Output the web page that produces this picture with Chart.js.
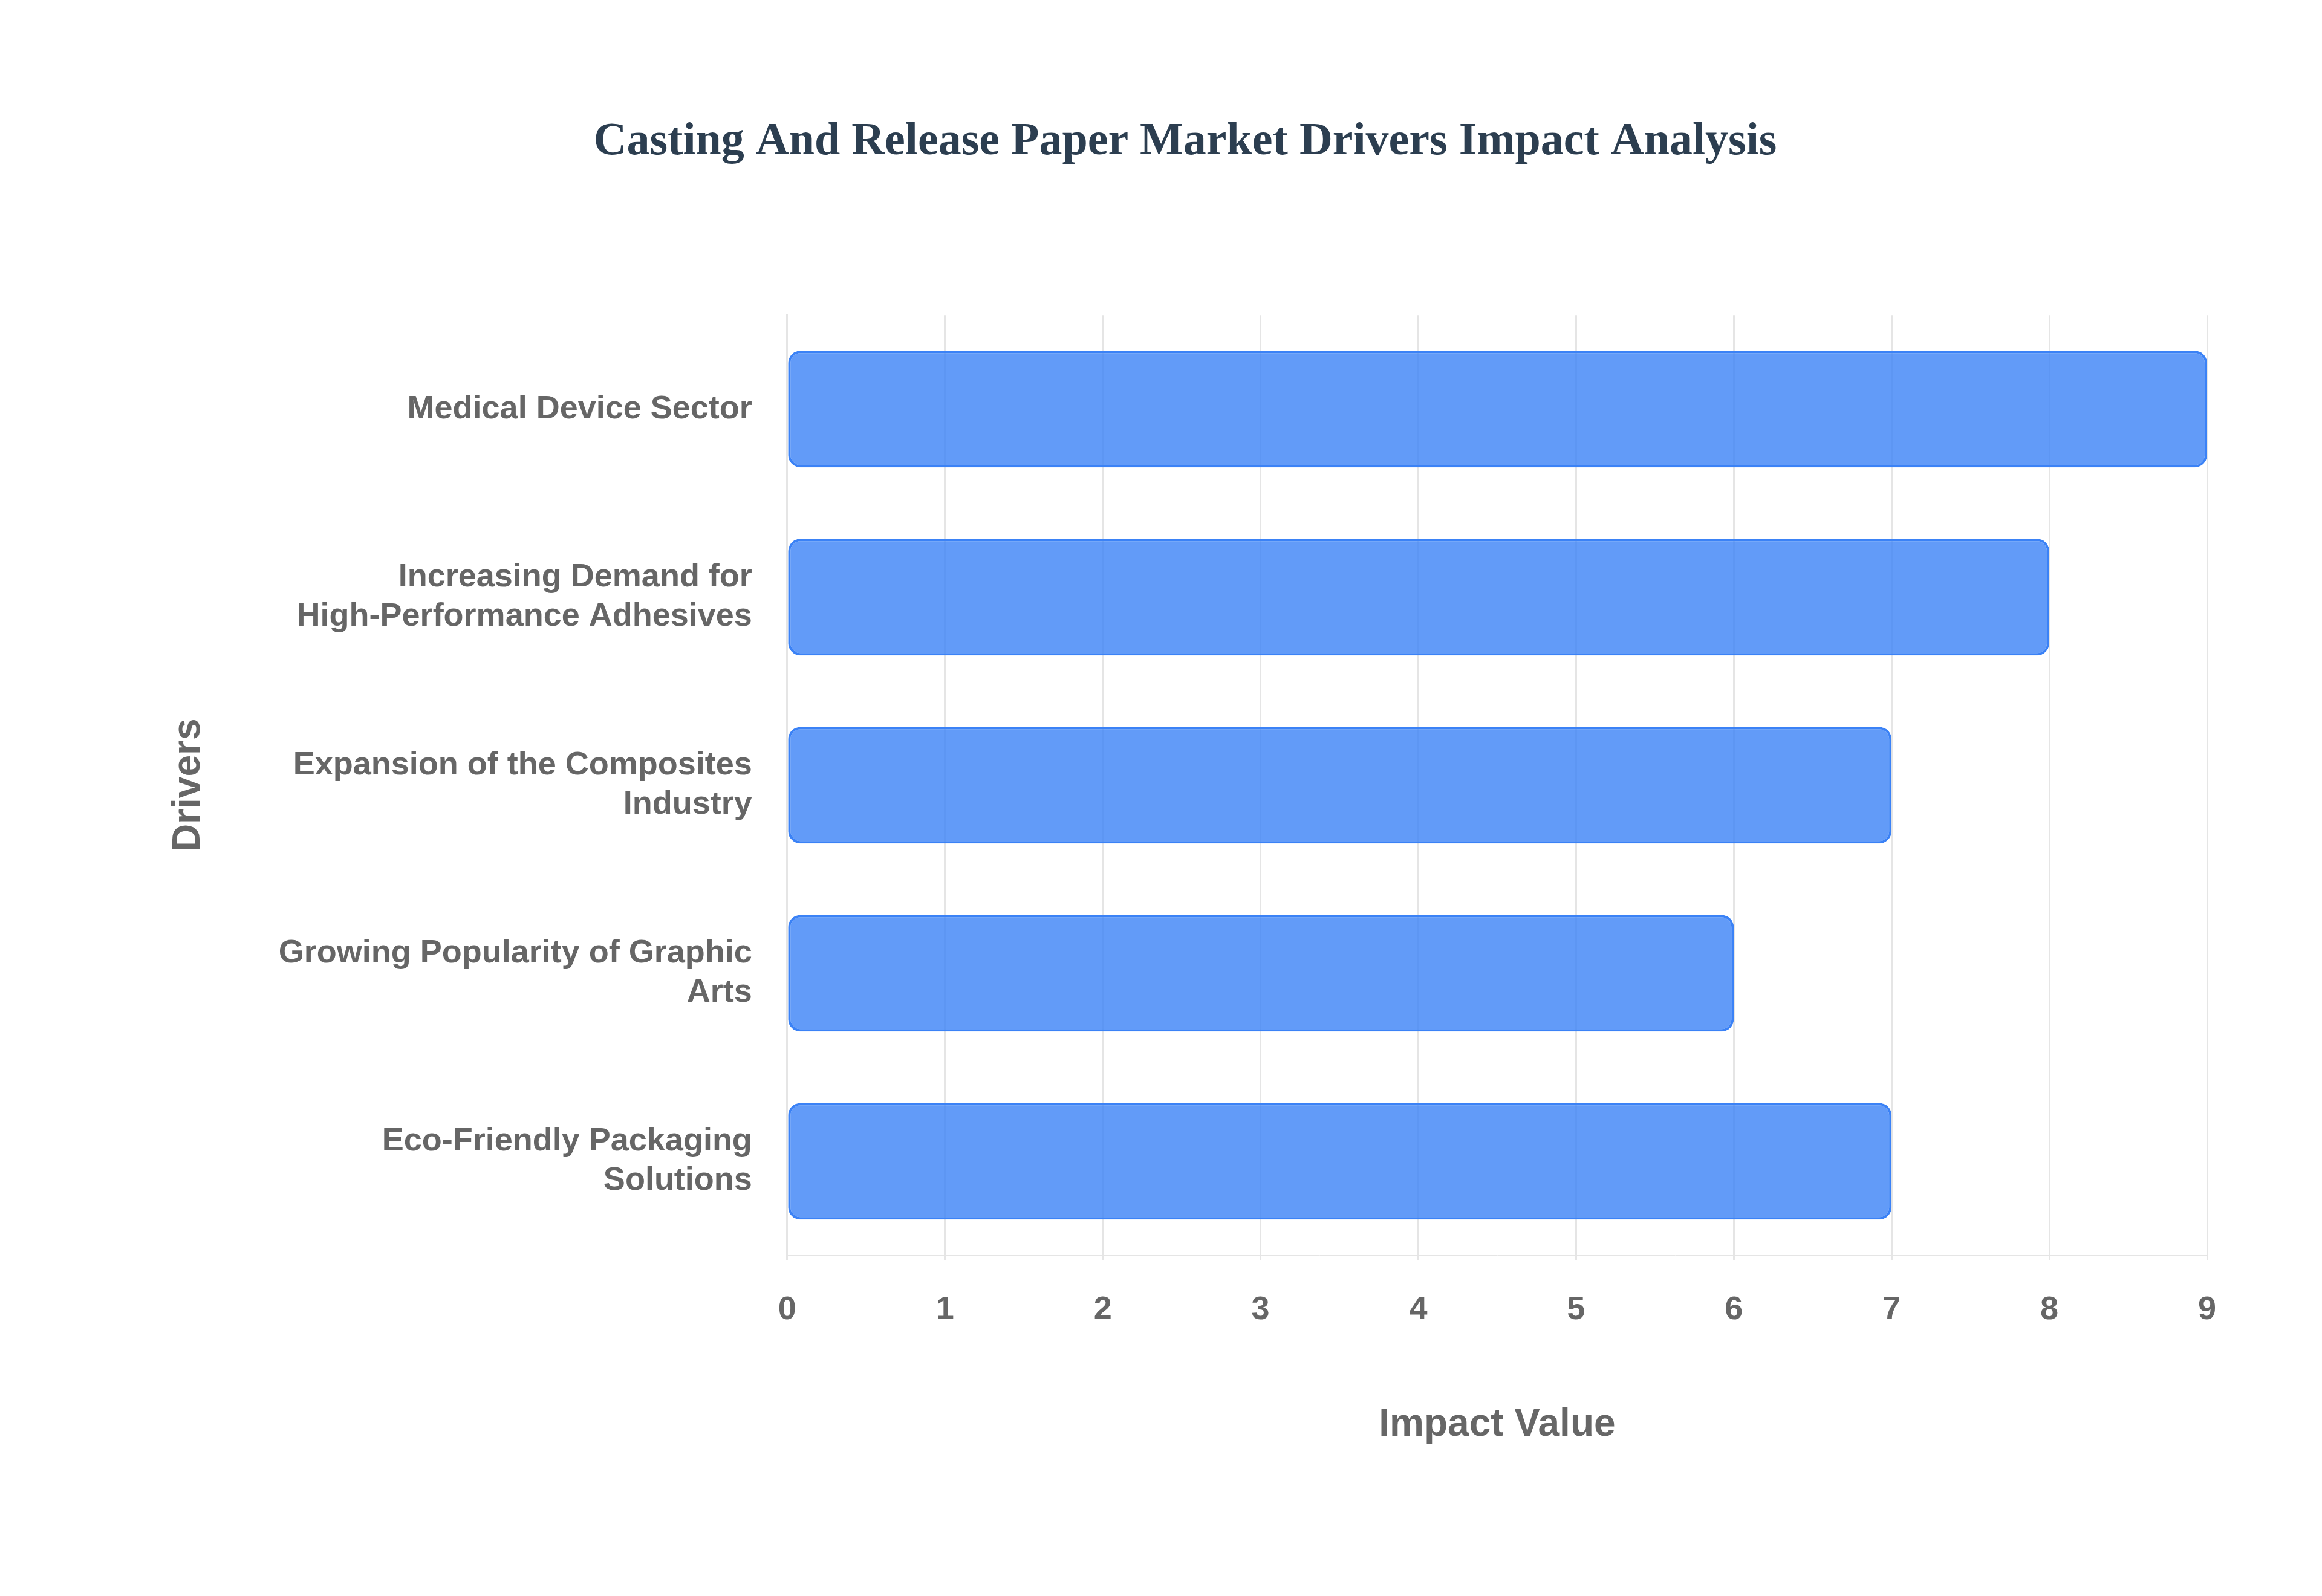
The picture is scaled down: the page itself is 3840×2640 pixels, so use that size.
<!DOCTYPE html>
<html lang="en">
<head>
<meta charset="UTF-8">
<script src="https://cdn.jsdelivr.net/npm/chart.js"></script>
<style>
  body { margin: 0; background: #fff; }
</style>
</head>
<body>
<canvas id="chart" width="3840" height="2640"></canvas>
<script>
// data
const drivers = [
    ['Medical Device Sector'],
    ['Increasing Demand for', 'High-Performance Adhesives'],
    ['Expansion of the Composites', 'Industry'],
    ['Growing Popularity of Graphic', 'Arts'],
    ['Eco-Friendly Packaging', 'Solutions']
];
const impactValues = [9, 8, 7, 6, 7];

const tickFont = { family: 'Liberation Sans, Arial, sans-serif', size: 54, weight: 'bold' };

new Chart(document.getElementById('chart'), {
    type: 'bar',
    data: {
        labels: drivers,
        datasets: [{
            data: impactValues,
            backgroundColor: 'rgba(59, 130, 246, 0.8)',
            borderColor: 'rgb(59, 130, 246)',
            borderWidth: 4,
            borderRadius: 20,
            borderSkipped: false,
            barPercentage: 0.62,
            categoryPercentage: 1
        }]
    },
    options: {
        indexAxis: 'y',
        responsive: false,
        devicePixelRatio: 1,
        animation: false,
        layout: { padding: { left: 270, right: 190, bottom: 240 } },
        plugins: {
            legend: { display: false },
            title: {
                display: true,
                text: 'Casting And Release Paper Market Drivers Impact Analysis',
                color: '#2c3e50',
                font: { family: 'Liberation Serif, Times New Roman, serif', size: 76, weight: 'bold' },
                padding: { top: 190, bottom: 240 }
            }
        },
        scales: {
            x: {
                min: 0,
                max: 9,
                ticks: { stepSize: 1, color: '#666', font: tickFont, padding: 50 },
                grid: { color: '#e5e5e5', lineWidth: 3 },
                border: { color: '#e5e5e5' },
                title: {
                    display: true,
                    text: 'Impact Value',
                    color: '#666',
                    font: { family: 'Liberation Sans, Arial, sans-serif', size: 64, weight: 'bold' },
                    padding: { top: 70 }
                }
            },
            y: {
                ticks: { color: '#666', font: tickFont, padding: 50 },
                grid: { display: false },
                border: { color: '#e5e5e5', width: 3 },
                title: {
                    display: true,
                    text: 'Drivers',
                    color: '#666',
                    font: { family: 'Liberation Sans, Arial, sans-serif', size: 64, weight: 'bold' },
                    padding: { bottom: 60 }
                }
            }
        }
    }
});
</script>
</body>
</html>
